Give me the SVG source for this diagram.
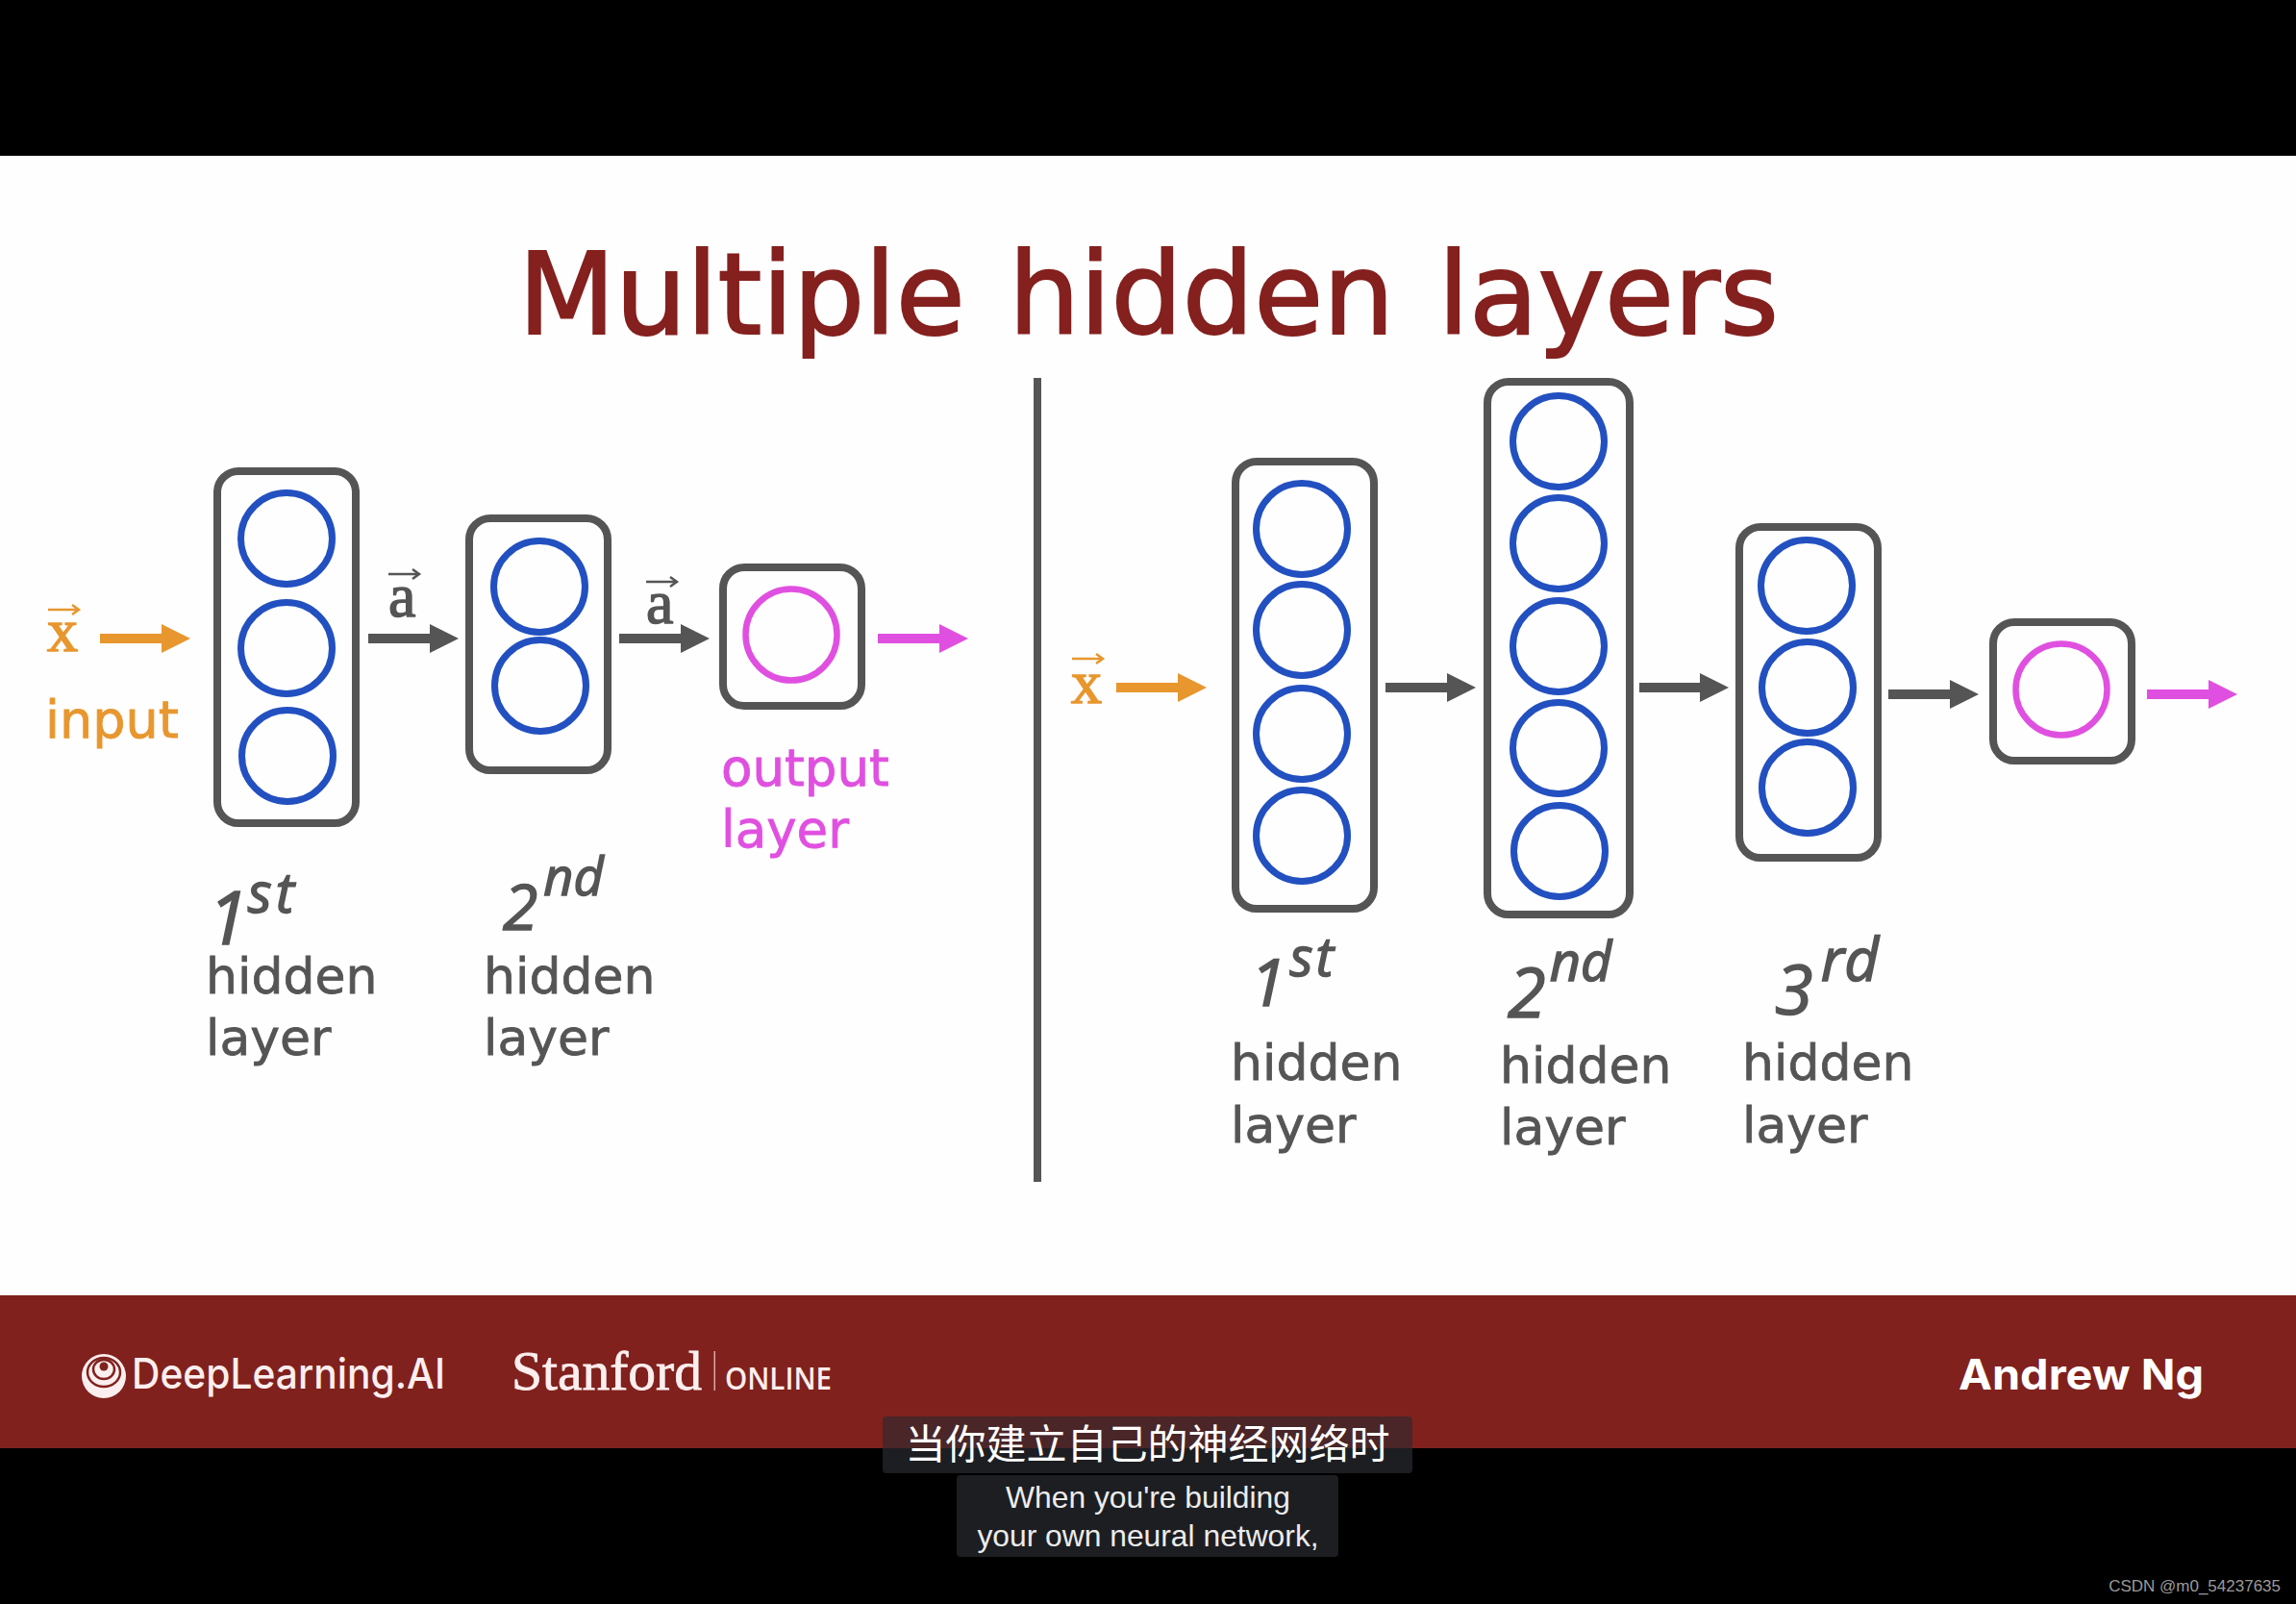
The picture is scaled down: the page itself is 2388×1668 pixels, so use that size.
<svg xmlns="http://www.w3.org/2000/svg" width="2388" height="1668" viewBox="0 0 2388 1668">
<style>
.box{fill:none;stroke:#555;stroke-width:8}
.n{fill:none;stroke:#2250c0;stroke-width:7}
.o{fill:none;stroke:#e050e0;stroke-width:6.5}
.t{font-family:"DejaVu Sans",sans-serif;font-size:52px;fill:#555;stroke:#555;stroke-width:.8}
.hw{font-family:"Open Sans",sans-serif;font-style:italic;fill:#555;stroke:#555;stroke-width:1.5}
.v{font-family:"Liberation Serif",serif;font-size:64px;stroke-width:1.5}
.va{fill:none;stroke-width:2.5}
.ln{fill:none;stroke-width:10}
.pk{font-family:"DejaVu Sans",sans-serif;font-size:53px;fill:#e050e0;stroke:#e050e0;stroke-width:.8}
</style>
<defs>
<marker id="hd" markerUnits="userSpaceOnUse" markerWidth="30" markerHeight="30" refX="0" refY="15" orient="auto"><path d="M0 0L30 15L0 30Z" fill="#555"/></marker>
<marker id="ho" markerUnits="userSpaceOnUse" markerWidth="30" markerHeight="30" refX="0" refY="15" orient="auto"><path d="M0 0L30 15L0 30Z" fill="#e8962e"/></marker>
<marker id="hp" markerUnits="userSpaceOnUse" markerWidth="30" markerHeight="30" refX="0" refY="15" orient="auto"><path d="M0 0L30 15L0 30Z" fill="#e050e0"/></marker>
</defs>
<rect width="2388" height="1668" fill="#000"/>
<rect y="162" width="2388" height="1186" fill="#fefefe"/>
<rect y="1347" width="2388" height="159" fill="#80211d"/>
<text id="title" x="539" y="347" font-family="DejaVu Sans, sans-serif" font-size="117" fill="#84201e" stroke="#84201e" stroke-width="2" word-spacing="8">Multiple hidden layers</text>
<rect id="divider" x="1075" y="393" width="8" height="836" fill="#555"/>

<g id="connectors">
<path class="ln" d="M104 664H168" stroke="#e8962e" marker-end="url(#ho)"/>
<path class="ln" d="M383 664H447" stroke="#555" marker-end="url(#hd)"/>
<path class="ln" d="M644 664H708" stroke="#555" marker-end="url(#hd)"/>
<path class="ln" d="M913 664H977" stroke="#e050e0" marker-end="url(#hp)"/>
<path class="ln" d="M1161 715H1225" stroke="#e8962e" marker-end="url(#ho)"/>
<path class="ln" d="M1441 715H1505" stroke="#555" marker-end="url(#hd)"/>
<path class="ln" d="M1705 715H1768" stroke="#555" marker-end="url(#hd)"/>
<path class="ln" d="M1964 722H2028" stroke="#555" marker-end="url(#hd)"/>
<path class="ln" d="M2233 722H2297" stroke="#e050e0" marker-end="url(#hp)"/>
</g>

<g id="left-input">
<text class="v" x="49" y="677" fill="#e8962e" stroke="#e8962e">x</text>
<path class="va" stroke="#e8962e" d="M50 634H82M75 629L82 634L75 639"/>
<text x="47" y="767" font-family="DejaVu Sans, sans-serif" font-size="54" fill="#e8962e" stroke="#e8962e" stroke-width=".8">input</text>
</g>
<g id="left-a1">
<text class="v" x="404" y="641" fill="#555" stroke="#555">a</text>
<path class="va" stroke="#555" d="M404 597H436M429 592L436 597L429 602"/>
</g>
<g id="left-a2">
<text class="v" x="672" y="648" fill="#555" stroke="#555">a</text>
<path class="va" stroke="#555" d="M672 605H704M697 600L704 605L697 610"/>
</g>

<g id="left-layer1">
<rect class="box" x="226" y="490" width="144" height="366" rx="22"/>
<circle class="n" cx="298" cy="560" r="47.5"/><circle class="n" cx="298" cy="674" r="47.5"/><circle class="n" cx="299" cy="786" r="47.5"/>
<text class="hw" x="216" y="982" font-size="76">1<tspan dx="0" dy="-33" font-size="58" letter-spacing="4">st</tspan></text>
<text class="t" x="214" y="1033">hidden</text><text class="t" x="214" y="1097">layer</text>
</g>
<g id="left-layer2">
<rect class="box" x="488" y="539" width="144" height="262" rx="22"/>
<circle class="n" cx="561" cy="610" r="47.5"/><circle class="n" cx="562" cy="713" r="47.5"/>
<text class="hw" x="523" y="967" font-size="66">2<tspan dx="6" dy="-36" font-size="54">nd</tspan></text>
<text class="t" x="503" y="1033">hidden</text><text class="t" x="503" y="1097">layer</text>
</g>
<g id="left-output">
<rect class="box" x="752" y="590" width="144" height="144" rx="22"/>
<circle class="o" cx="823" cy="660" r="47.5"/>
<text class="pk" x="750" y="817">output</text>
<text class="pk" x="750" y="881">layer</text>
</g>

<g id="right-input">
<text class="v" x="1114" y="731" fill="#e8962e" stroke="#e8962e">x</text>
<path class="va" stroke="#e8962e" d="M1115 685H1147M1140 680L1147 685L1140 690"/>
</g>
<g id="right-layer1">
<rect class="box" x="1285" y="480" width="144" height="465" rx="22"/>
<circle class="n" cx="1354" cy="550" r="47.5"/><circle class="n" cx="1354" cy="655" r="47.5"/><circle class="n" cx="1354" cy="763" r="47.5"/><circle class="n" cx="1354" cy="869" r="47.5"/>
<text class="hw" x="1300" y="1046" font-size="68">1<tspan dx="4" dy="-31" font-size="56" letter-spacing="3">st</tspan></text>
<text class="t" x="1280" y="1123">hidden</text><text class="t" x="1280" y="1188">layer</text>
</g>
<g id="right-layer2">
<rect class="box" x="1547" y="397" width="148" height="554" rx="22"/>
<circle class="n" cx="1621" cy="459" r="47.5"/><circle class="n" cx="1621" cy="565" r="47.5"/><circle class="n" cx="1621" cy="672" r="47.5"/><circle class="n" cx="1621" cy="778" r="47.5"/><circle class="n" cx="1622" cy="885" r="47.5"/>
<text class="hw" x="1568" y="1058" font-size="72">2<tspan dx="4" dy="-38" font-size="56">nd</tspan></text>
<text class="t" x="1560" y="1126">hidden</text><text class="t" x="1560" y="1190">layer</text>
</g>
<g id="right-layer3">
<rect class="box" x="1809" y="548" width="144" height="344" rx="22"/>
<circle class="n" cx="1879" cy="609" r="47.5"/><circle class="n" cx="1880" cy="715" r="47.5"/><circle class="n" cx="1880" cy="819" r="47.5"/>
<text class="hw" x="1846" y="1055" font-size="72">3<tspan dx="8" dy="-35" font-size="62">rd</tspan></text>
<text class="t" x="1812" y="1123">hidden</text><text class="t" x="1812" y="1188">layer</text>
</g>
<g id="right-output">
<rect class="box" x="2073" y="647" width="144" height="144" rx="22"/>
<circle class="o" cx="2144" cy="717" r="47.5"/>
</g>

<g id="footer">
<circle cx="108" cy="1431" r="23" fill="#fbeeee"/>
<ellipse cx="108" cy="1427" rx="17" ry="15" fill="none" stroke="#80211d" stroke-width="2.5"/>
<ellipse cx="108" cy="1424" rx="11" ry="10" fill="none" stroke="#80211d" stroke-width="2.5"/>
<circle cx="108" cy="1421" r="4.5" fill="#80211d"/>
<text x="137" y="1444" font-family="Inter, sans-serif" font-weight="500" font-size="44" fill="#fbeeee" textLength="326" lengthAdjust="spacingAndGlyphs">DeepLearning.AI</text>
<text x="532" y="1445" font-family="Liberation Serif, serif" font-size="56" fill="#fbeeee" stroke="#fbeeee" stroke-width=".8" textLength="198" lengthAdjust="spacingAndGlyphs">Stanford</text>
<rect x="742.5" y="1405" width="1.5" height="41" fill="#d9a8a6"/>
<text x="754" y="1445" font-family="Open Sans, sans-serif" font-weight="600" font-size="32" fill="#fbeeee" textLength="111" lengthAdjust="spacingAndGlyphs">ONLINE</text>
<text x="2037" y="1445" font-family="Inter, sans-serif" font-weight="700" font-size="44" fill="#fff" textLength="255" lengthAdjust="spacingAndGlyphs">Andrew Ng</text>
</g>

<g id="subtitles">
<path d="M922 1473H1465a4 4 0 0 1 4 4V1506H918V1477a4 4 0 0 1 4-4Z" fill="#4a2629"/>
<path d="M918 1506H1469V1528a4 4 0 0 1-4 4H922a4 4 0 0 1-4-4Z" fill="#1d1e22"/>
<rect x="995" y="1534" width="397" height="85" rx="4" fill="#1d1e22"/>
<text x="1193.5" y="1517" text-anchor="middle" font-family="Noto Sans CJK SC, sans-serif" font-size="42" fill="#fff">当你建立自己的神经网络时</text>
<text x="1194" y="1568" text-anchor="middle" font-family="Liberation Sans, sans-serif" font-size="31.8" fill="#ececec">When you're building</text>
<text x="1194" y="1608" text-anchor="middle" font-family="Liberation Sans, sans-serif" font-size="31.8" fill="#ececec">your own neural network,</text>
</g>
<text id="watermark" x="2372" y="1655" text-anchor="end" font-family="Liberation Sans, sans-serif" font-size="17" fill="#9a9a9a">CSDN @m0_54237635</text>
</svg>
